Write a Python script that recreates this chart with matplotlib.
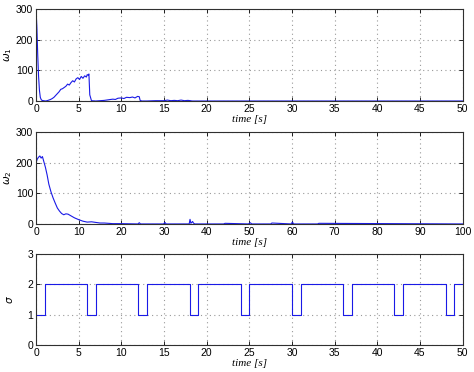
import matplotlib
matplotlib.use("Agg")
import matplotlib.pyplot as plt

# omega_1 over the first 50 s
t1 = [0.0, 0.1, 0.2, 0.3, 0.4, 0.5, 0.6, 0.7, 0.9, 1.1, 1.3, 1.5, 1.7, 1.9,
      2.1, 2.3, 2.5, 2.7, 2.9, 3.1, 3.3, 3.5, 3.7, 3.9, 4.1, 4.3, 4.5, 4.7,
      4.9, 5.1, 5.3, 5.5, 5.7, 5.9, 6.0, 6.1, 6.2, 6.3, 6.5, 7.0, 7.5, 8.0,
      8.5, 9.0, 9.3, 9.6, 10.0, 10.3, 10.6, 11.0, 11.3, 11.6, 11.9, 12.1,
      12.2, 12.4, 13.0, 14.0, 15.0, 15.4, 15.8, 16.2, 16.6, 17.0, 17.4,
      17.8, 18.1, 18.3, 20.0, 25.0, 30.0, 35.0, 40.0, 45.0, 50.0]
w1 = [300, 240, 150, 80, 35, 12, 5, 2, 1, 0, 1, 3, 5, 8,
      12, 18, 24, 30, 38, 40, 44, 48, 55, 52, 60, 66, 62, 72,
      76, 70, 80, 74, 82, 78, 86, 84, 88, 20, 1, 0, 1, 2,
      4, 6, 5, 9, 10, 8, 12, 11, 13, 10, 15, 14,
      2, 0, 0, 1, 1, 3, 1, 2, 1, 3, 1,
      2, 1, 0, 0, 0, 0, 0, 0, 0, 0]

# omega_2 over 100 s
t2 = [0.0, 0.3, 0.6, 0.9, 1.2, 1.5, 1.8, 2.2, 2.6, 3.0, 3.5, 4.0, 4.5, 5.0,
      5.5, 6.0, 6.5, 7.0, 7.5, 8.0, 8.5, 9.0, 10.0, 11.0, 12.0, 13.0, 14.0,
      15.0, 16.0, 17.0, 18.0, 20.0, 23.9, 24.2, 24.5, 29.9, 30.2, 30.5,
      35.9, 36.1, 36.3, 36.7, 36.9, 37.2, 44.0, 44.3, 49.8, 50.2, 50.6,
      55.0, 55.3, 59.8, 60.1, 60.4, 66.0, 66.3, 100.0]
w2 = [200, 212, 218, 222, 215, 220, 205, 185, 160, 130, 105, 85, 68, 52,
      42, 34, 30, 33, 32, 28, 24, 20, 14, 9, 6, 7, 5,
      3, 3, 2, 1, 1, 0, 4, 0, 0, 5, 0,
      0, 15, 2, 8, 3, 0, 0, 2, 0, 4, 0,
      0, 3, 0, 6, 0, 0, 2, 0]

# switching signal sigma
t_sigma = [0, 1, 6, 7, 12, 13, 18, 19, 24, 25, 30, 31, 36, 37, 42, 43, 48, 49, 50]
sigma = [1, 2, 1, 2, 1, 2, 1, 2, 1, 2, 1, 2, 1, 2, 1, 2, 1, 2, 2]

plt.rcParams['font.family'] = ['Liberation Sans', 'DejaVu Sans']
plt.rcParams['font.size'] = 7.5
plt.rcParams['mathtext.fontset'] = 'dejavusans'

fig = plt.figure(figsize=(4.74, 3.72), dpi=100)
left, width = 0.076, 0.9
ax1 = fig.add_axes([left, 0.7285, width, 0.2475])
ax2 = fig.add_axes([left, 0.398, width, 0.247])
ax3 = fig.add_axes([left, 0.0726, width, 0.2444])

line_kw = dict(color='#1a1ae6', lw=0.8)
ax1.plot(t1, w1, **line_kw)
ax2.plot(t2, w2, **line_kw)
ax3.step(t_sigma, sigma, where='post', **line_kw)

ax1.set_xlim(0, 50)
ax1.set_ylim(0, 300)
ax1.set_xticks(range(0, 51, 5))
ax1.set_yticks([0, 100, 200, 300])
ax1.set_ylabel(r'$\omega_1$', labelpad=1)

ax2.set_xlim(0, 100)
ax2.set_ylim(0, 300)
ax2.set_xticks(range(0, 101, 10))
ax2.set_yticks([0, 100, 200, 300])
ax2.set_ylabel(r'$\omega_2$', labelpad=1)

ax3.set_xlim(0, 50)
ax3.set_ylim(0, 3)
ax3.set_xticks(range(0, 51, 5))
ax3.set_yticks([0, 1, 2, 3])
ax3.set_ylabel(r'$\sigma$', labelpad=9)

for ax in (ax1, ax2, ax3):
    ax.grid(True, linestyle=(0, (1, 3)), color='#999999', lw=0.8)
    ax.tick_params(direction='in', top=True, right=True, length=3, width=0.6, pad=2)
    for s in ax.spines.values():
        s.set_linewidth(0.8)
        s.set_color('#303030')
    ax.set_xlabel('time [s]', family='Liberation Serif', style='italic',
                  fontsize=8, labelpad=1)

fig.savefig('out.png', dpi=100)
